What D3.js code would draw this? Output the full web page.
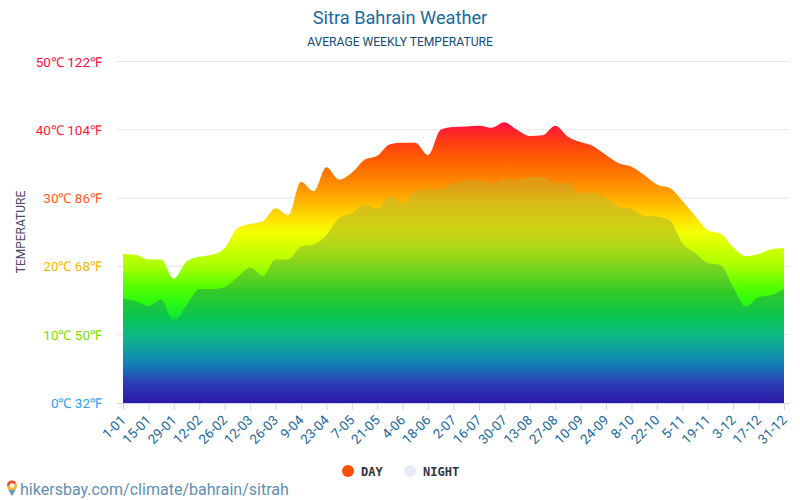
<!DOCTYPE html>
<html>
<head>
<meta charset="utf-8">
<script src="https://cdnjs.cloudflare.com/ajax/libs/d3/7.8.5/d3.min.js"></script>
<style>
body { margin: 0; background: #fff; }
svg { display: block; font-family: Roboto, sans-serif; }
.domain { stroke: #ccd6eb; }
</style>
</head>
<body>
<svg width="800" height="500"></svg>
<script>
// weekly categories, every second one gets a label
var weeks = ["1-01","8-01","15-01","22-01","29-01","5-02","12-02","19-02","26-02","5-03","12-03","19-03","26-03",
	"2-04","9-04","16-04","23-04","30-04","7-05","14-05","21-05","28-05","4-06","11-06","18-06","25-06",
	"2-07","9-07","16-07","23-07","30-07","6-08","13-08","20-08","27-08","3-09","10-09","17-09","24-09",
	"1-10","8-10","15-10","22-10","29-10","5-11","12-11","19-11","26-11","3-12","10-12","17-12","24-12","31-12"];
var day = [21.8,21.7,21,21,18.2,20.7,21.4,21.7,22.7,25.6,26.2,26.6,28.5,27.5,32.4,31,34.5,32.7,33.7,35.6,36.2,37.9,38.1,38.1,36.3,40,
	40.4,40.5,40.6,40.3,41.1,40,39.1,39.2,40.6,39,38.2,37.6,36.3,35.1,34.6,33.4,32,31.5,29.6,27.4,25.3,24.8,22.8,21.5,21.8,22.5,22.7];
var night = [15.3,14.9,14.2,15.1,11.9,14.3,16.7,16.7,17,18.4,19.8,18.6,21,21,22.9,23.2,24.6,27.1,27.8,29,28.4,30.3,29.3,31,31.3,31.3,
	32.2,32.6,32.7,32.2,32.7,32.7,33,33.1,32.2,32.2,30.7,30.8,30,28.7,28.4,27.4,27.3,26.8,23.4,22,20.5,20.2,17,14.1,15.5,15.8,16.7];
var celsiusTicks = [0,10,20,30,40,50];
var fahrenheitTicks = [32,50,68,86,104,122];
var tickColors = ["#2aa0f0","#76e000","#f5b800","#ff5a1e","#ff1a3a","#ff0a3c"];
// gradient stops: temperature, colour
var dayStops = [[0,"#2c17a8"],[3,"#2a3fb4"],[6,"#1185b5"],[10,"#0cbb85"],[11.9,"#08c850"],[13,"#14ee2c"],[15,"#2ffa10"],[17,"#55ff00"],[20,"#a8ff00"],[25,"#f4ff00"],[27,"#ffe000"],[31,"#ff9c00"],[35,"#ff6600"],[38,"#ff4010"],[41,"#ff1040"]];
var nightStops = [[0,"#2c17a8"],[3,"#2a3fb4"],[6,"#1185b5"],[10,"#0cbb85"],[12.5,"#07c44f"],[16,"#30c82a"],[18,"#55d020"],[22.4,"#a8d818"],[25.3,"#ccd415"],[29.7,"#dcb818"],[32,"#e09a14"]];

var svg = d3.select("svg"),
	margin = {top: 61.5, right: 16, bottom: 97, left: 123};

var x = d3.scalePoint().domain(weeks).range([margin.left, 784]);
var y = d3.scaleLinear().domain([0, 50]).range([403, 61.5]);

function addGradient(id, stops) {
	var grad = svg.append("defs").append("linearGradient")
		.attr("id", id)
		.attr("gradientUnits", "userSpaceOnUse")
		.attr("x1", 0).attr("x2", 0)
		.attr("y1", y(0)).attr("y2", y(41));
	grad.selectAll("stop").data(stops).enter().append("stop")
		.attr("offset", function (d) { return d[0] / 41; })
		.attr("stop-color", function (d) { return d[1]; });
}
addGradient("dayFill", dayStops);
addGradient("nightFill", nightStops);

// grid
svg.append("g").selectAll("line").data(celsiusTicks.slice(1)).enter().append("line")
	.attr("x1", 117).attr("x2", 790)
	.attr("y1", function (d) { return y(d); })
	.attr("y2", function (d) { return y(d); })
	.attr("stroke", "#e6e6e6");

function areaFor(values) {
	return d3.area()
		.x(function (d, i) { return x(weeks[i]); })
		.y0(y(0))
		.y1(function (d) { return y(d); })
		.curve(d3.curveMonotoneX)(values);
}
svg.append("path").attr("d", areaFor(day)).attr("fill", "url(#dayFill)");
svg.append("path").attr("d", areaFor(night)).attr("fill", "url(#nightFill)");

// y axis
var yAxis = svg.append("g")
	.attr("transform", "translate(117,0)")
	.call(d3.axisLeft(y).tickValues(celsiusTicks).tickSize(0).tickPadding(15)
		.tickFormat(function (d, i) { return d + "℃ " + fahrenheitTicks[i] + "℉"; }));
yAxis.select(".domain").remove();
yAxis.selectAll("text")
	.style("font-family", "Roboto, sans-serif")
	.style("font-size", "13.5px")
	.attr("dy", "0.34em")
	.attr("fill", function (d, i) { return tickColors[i]; });

// x axis
var xAxis = svg.append("g")
	.attr("transform", "translate(0,403)")
	.call(d3.axisBottom(x)
		.tickValues(weeks.filter(function (d, i) { return !(i % 2); }))
		.tickSize(7).tickSizeOuter(0));
xAxis.select(".domain").attr("d", "M117,0.5H790");
xAxis.selectAll("line").attr("stroke", "#ccd6eb");
xAxis.selectAll("text")
	.style("font-family", "Roboto, sans-serif")
	.style("font-size", "13.4px")
	.attr("fill", "#20689c")
	.attr("text-anchor", "end")
	.attr("y", 0)
	.attr("dy", 0)
	.attr("transform", "translate(3,18) rotate(-45)");

// titles
svg.append("text").attr("x", 400).attr("y", 24).attr("text-anchor", "middle")
	.attr("fill", "#1a6a9c").style("font-size", "18.2px").text("Sitra Bahrain Weather");
svg.append("text").attr("x", 400).attr("y", 46).attr("text-anchor", "middle")
	.attr("fill", "#0f4a7c").style("font-size", "12.1px").text("AVERAGE WEEKLY TEMPERATURE");
svg.append("text").attr("transform", "translate(25,232) rotate(-90)").attr("text-anchor", "middle")
	.attr("fill", "#4a4a68").style("font-size", "12px").text("TEMPERATURE");

// legend
var legendNames = ["DAY", "NIGHT"];
var legendColors = ["#ff4f00", "#e6ecf3"];
var legendX = [348, 410];
legendNames.forEach(function (name, i) {
	svg.append("circle").attr("cx", legendX[i]).attr("cy", 471).attr("r", 6).attr("fill", legendColors[i]);
	svg.append("text").attr("x", legendX[i] + 13).attr("y", 475.5)
		.attr("fill", "#333340")
		.style("font-family", "'DejaVu Sans Mono', monospace")
		.style("font-weight", "bold").style("font-size", "12px")
		.text(name);
});

// footer with map pin
var pin = svg.append("g").attr("transform", "translate(12,488)");
pin.append("path").attr("d", "M0,8 C-2,4 -5,1 -5,-2.5 A5,5 0 0 1 5,-2.5 C5,1 2,4 0,8 Z").attr("fill", "#f5b43c");
pin.append("path").attr("d", "M-5,-2.5 A5,5 0 0 1 4,-5.5 L0,-2.5 Z").attr("fill", "#e8503c");
pin.append("path").attr("d", "M0,8 C-1,6 -2.5,4 -3.5,2 L3.5,2 C2.5,4 1,6 0,8 Z").attr("fill", "#5a9fc0");
pin.append("circle").attr("cy", -2.5).attr("r", 2.2).attr("fill", "#fff");
svg.append("text").attr("x", 20).attr("y", 495)
	.attr("fill", "#5f8fb3").style("font-size", "16.05px")
	.text("hikersbay.com/climate/bahrain/sitrah");
</script>
</body>
</html>
